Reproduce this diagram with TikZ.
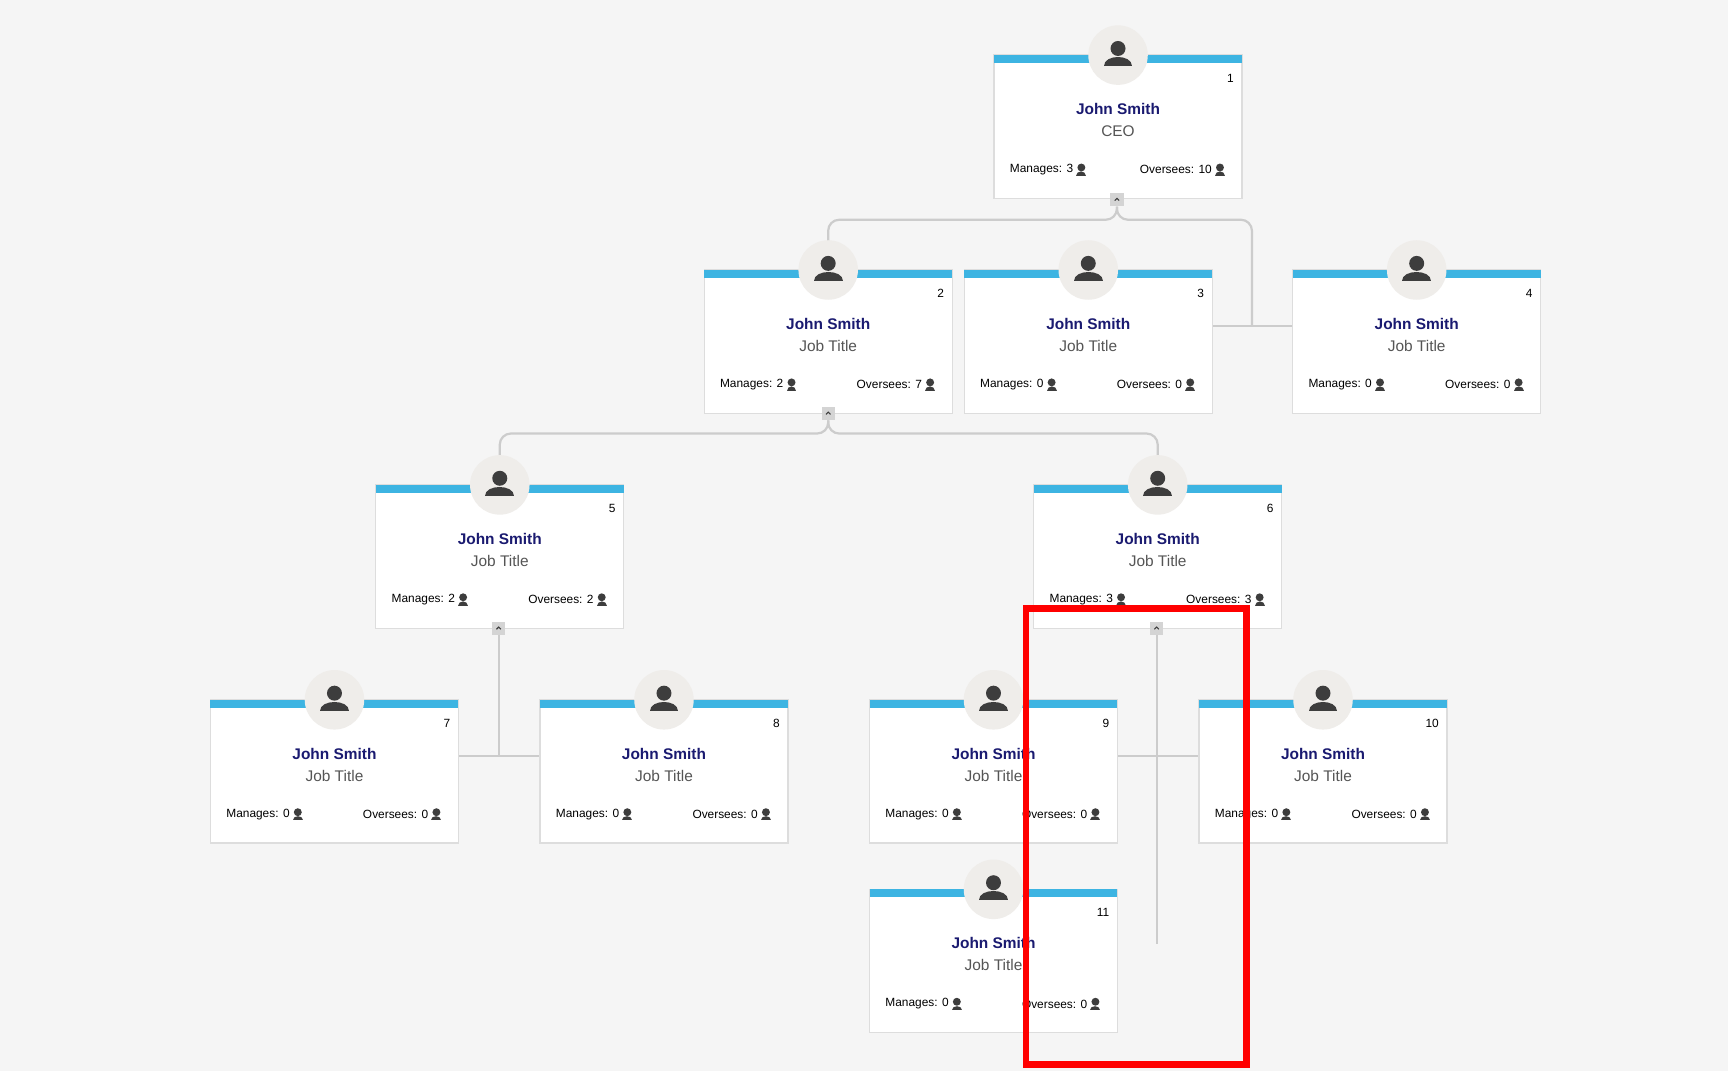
\documentclass[tikz,border=0pt]{standalone}
\usepackage{fontspec}
\setmainfont{Liberation Sans}
\usetikzlibrary{backgrounds,calc}
\definecolor{bgc}{HTML}{F5F5F5}
\definecolor{barblue}{HTML}{3DB4E2}
\definecolor{avbg}{HTML}{EFEDEA}
\definecolor{icon}{HTML}{3D3D3D}
\definecolor{navy}{HTML}{1A1A70}
\definecolor{ttl}{HTML}{555555}
\definecolor{bord}{HTML}{DDDDDD}
\definecolor{conn}{HTML}{CCCCCC}
\definecolor{btn}{HTML}{D4D4D4}
\tikzset{
 cardbox/.style={draw=bord,fill=white,line width=0.6pt,minimum width=112.5pt,minimum height=65pt,inner sep=0pt},
 connline/.style={draw=conn,line width=1pt,rounded corners=5pt},
 btnbox/.style={fill=btn,minimum size=6pt,inner sep=0pt},
 nametxt/.style={font=\fontsize{7}{8}\selectfont\bfseries,text=navy},
 titletxt/.style={font=\fontsize{7}{8}\selectfont,text=ttl},
 stattxt/.style={font=\fontsize{5.4}{6}\selectfont,text=black,inner sep=0pt},
}
\newcommand\smallperson[1]{%
 \fill[icon] ($(#1)+(0,-2)$) circle (1.8pt);
 \fill[icon] ($(#1)+(-4.5,5.5)$) .. controls ($(#1)+(-4.5,0.5)$) and ($(#1)+(4.5,0.5)$) .. ($(#1)+(4.5,5.5)$) -- cycle;
}
\newcommand\orgcard[7]{%
 \node[cardbox] (#1) at (#2+112.5,#3+65) {};
 \fill[barblue] (#2,#3) rectangle (#2+225,#3+7);
 \fill[avbg] (#2+112.5,#3) circle (13.5pt);
 \fill[icon] (#2+112.5,#3-6) circle (3.4pt);
 \fill[icon] (#2+99.5,#3+10) .. controls (#2+99.5,#3-1) and (#2+125.5,#3-1) .. (#2+125.5,#3+10) -- cycle;
 \node[stattxt,anchor=east] at (#2+218,#3+21) {#4};
 \node[nametxt] at (#2+112.5,#3+49) {John Smith};
 \node[titletxt] at (#2+112.5,#3+69) {#5};
 \node[stattxt,anchor=west] (#1m) at (#2+14,#3+104) {Manages: #6};
 \coordinate (#1mi) at ($(#1m.east)+(7,0)$);
 \smallperson{#1mi}
 \node[stattxt,anchor=east] (#1o) at (#2+198,#3+104) {Oversees: #7};
 \coordinate (#1oi) at ($(#1o.east)+(7,0)$);
 \smallperson{#1oi}
}
\newcommand\collapsebtn[3]{%
 \node[btnbox] (#1) at (#2,#3) {};
 \draw[icon,line width=0.5pt] (#2-2,#3+1) -- (#2,#3-1) -- (#2+2,#3+1);
}
\begin{document}
\begin{tikzpicture}[x=0.5pt,y=-0.5pt]
\begin{pgfonlayer}{background}
\fill[bgc] (0,0) rectangle (1568,972);
\end{pgfonlayer}
\orgcard{c1}{902}{50}{1}{CEO}{3}{10}
\orgcard{c2}{639}{245}{2}{Job Title}{2}{7}
\orgcard{c3}{875}{245}{3}{Job Title}{0}{0}
\orgcard{c4}{1173}{245}{4}{Job Title}{0}{0}
\orgcard{c5}{341}{440}{5}{Job Title}{2}{2}
\orgcard{c6}{938}{440}{6}{Job Title}{3}{3}
\orgcard{c7}{191}{635}{7}{Job Title}{0}{0}
\orgcard{c8}{490}{635}{8}{Job Title}{0}{0}
\orgcard{c9}{789}{635}{9}{Job Title}{0}{0}
\orgcard{c10}{1088}{635}{10}{Job Title}{0}{0}
\orgcard{c11}{789}{807}{11}{Job Title}{0}{0}
\collapsebtn{b1}{1013.5}{181}
\collapsebtn{b2}{751.5}{375}
\collapsebtn{b5}{452.5}{570}
\collapsebtn{b6}{1049.5}{570}
\coordinate (j1) at (1136,296);
\coordinate (e6) at (1049.5,857);
\begin{pgfonlayer}{background}
\draw[connline] (b1.south) -- ++(0,12) -| (c2.north);
\draw[connline] (b1.south) -- ++(0,12) -| (j1);
\draw[connline] ([yshift=7pt]c3.east) -- ([yshift=7pt]c4.west);
\draw[connline] (b2.south) -- ++(0,12) -| (c5.north);
\draw[connline] (b2.south) -- ++(0,12) -| (c6.north);
\draw[connline] (b5.south) -- ([yshift=7pt]c7.east -| b5.south);
\draw[connline] ([yshift=7pt]c7.east) -- ([yshift=7pt]c8.west);
\draw[connline] (b6.south) -- (e6);
\draw[connline] ([yshift=7pt]c9.east) -- ([yshift=7pt]c10.west);
\end{pgfonlayer}
\draw[red,line width=3pt] (931,552) rectangle (1131,966);
\end{tikzpicture}
\end{document}
